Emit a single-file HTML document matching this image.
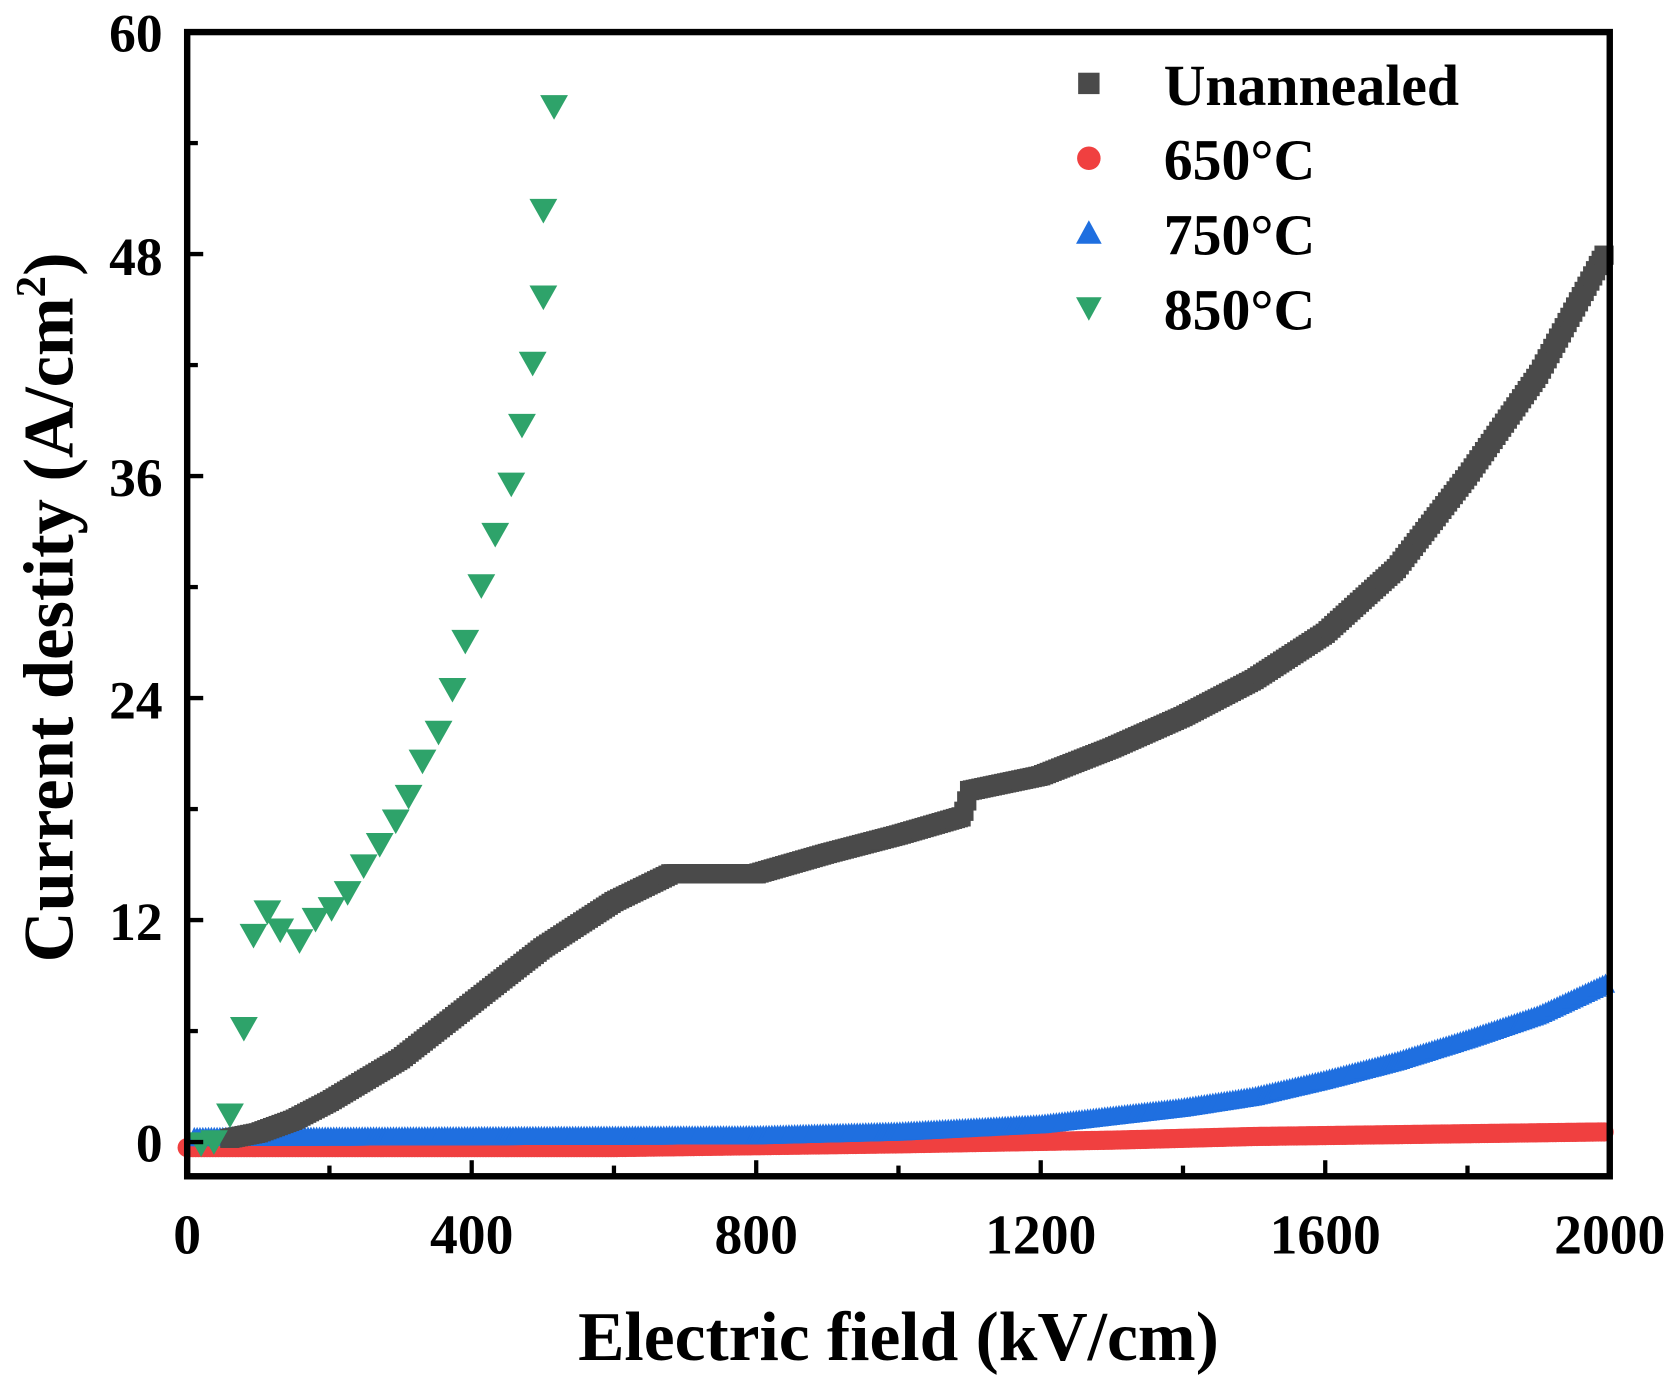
<!DOCTYPE html>
<html><head><meta charset="utf-8"><style>
html,body{margin:0;padding:0;background:#fff;}
svg{display:block;}
text{font-family:"Liberation Serif",serif;font-weight:bold;fill:#000;}
</style></head><body>
<svg id="s" width="1675" height="1388" viewBox="0 0 1566 1298" preserveAspectRatio="none" xmlns="http://www.w3.org/2000/svg">
<g id="data"></g>
<rect x="175" y="30" width="1330" height="1070" fill="none" stroke="#000" stroke-width="6"/>
<g id="ticks" stroke="#000" stroke-width="4"></g>
<g font-size="50" text-anchor="end">
<text x="152" y="1086">0</text><text x="152" y="879">12</text><text x="152" y="672">24</text>
<text x="152" y="464">36</text><text x="152" y="257">48</text><text x="152" y="48">60</text>
</g>
<g font-size="52" text-anchor="middle">
<text x="175" y="1172">0</text><text x="441" y="1172">400</text><text x="707" y="1172">800</text>
<text x="973" y="1172">1200</text><text x="1239" y="1172">1600</text><text x="1505" y="1172">2000</text>
</g>
<text x="840" y="1272" font-size="65" text-anchor="middle">Electric field (kV/cm)</text>
<text transform="translate(68,568) rotate(-90)" font-size="66" text-anchor="middle">Current destity (A/cm<tspan font-size="40" dy="-26">2</tspan><tspan dy="26">)</tspan></text>
<g font-size="54">
<rect x="1008" y="68" width="20" height="20" fill="#4a4a4a"/><text x="1088" y="98">Unannealed</text>
<circle cx="1018" cy="148" r="11" fill="#f04040"/><text x="1088" y="168">650°C</text>
<polygon points="1006,228 1030,228 1018,206" fill="#1f6fe0"/><text x="1088" y="238">750°C</text>
<polygon points="1006,278 1030,278 1018,300" fill="#2ea36a"/><text x="1088" y="308">850°C</text>
</g>
</svg>
<script>
var NS="http://www.w3.org/2000/svg",g=document.getElementById('data'),tk=document.getElementById('ticks');
function X(v){return 175+v*0.665;} function Y(v){return 1068-v*17.3;}
function el(n,a,p){var e=document.createElementNS(NS,n);for(var k in a)e.setAttribute(k,a[k]);(p||g).appendChild(e);}
function interp(p,x){for(var i=0;i<p.length-1;i++){if(x<=p[i+1][0]){var t=(x-p[i][0])/(p[i+1][0]-p[i][0]);return p[i][1]+t*(p[i+1][1]-p[i][1]);}}return p[p.length-1][1];}
for(var v=0;v<=2000;v+=200){var x=X(v);el('line',{x1:x,y1:1100,x2:x,y2:v%400?1090:1085},tk);}
for(var v=0;v<=60;v+=6){var y=Y(v);el('line',{x1:175,y1:y,x2:v%12?185:190,y2:y},tk);}
var red=[[0,-0.3],[600,-0.3],[1000,-0.1],[1300,0.1],[1500,0.3],[2000,0.55]];
for(var v=0;v<=1995;v+=4)el('circle',{cx:X(v),cy:Y(interp(red,v)),r:9,fill:'#f04040'});
var blue=[[0,0.3],[800,0.4],[1000,0.6],[1200,1],[1400,1.9],[1500,2.5],[1600,3.4],[1700,4.4],[1800,5.6],[1900,6.9],[2000,8.7]];
for(var v=10;v<=1995;v+=4){var x=X(v),y=Y(interp(blue,v));el('polygon',{points:(x-9)+','+(y+9)+' '+(x+9)+','+(y+9)+' '+x+','+(y-9),fill:'#1f6fe0'});}
var gr=[[60,0.2],[100,0.5],[150,1.2],[200,2.2],[300,4.5],[400,7.5],[500,10.5],[600,13],[680,14.5],[800,14.5],[900,15.6],[1000,16.6],[1090,17.6],[1100,19],[1200,19.8],[1300,21.3],[1400,23],[1500,25],[1600,27.5],[1700,31],[1800,36],[1900,41.5],[2000,48.5]];
for(var v=60;v<=1995;v+=4)el('rect',{x:X(v)-9,y:Y(interp(gr,v))-9,width:18,height:18,fill:'#4a4a4a'});
var grn=[[188,1070],[200,1068],[215,1043],[228,962],[237,875],[250,853],[262,870],[280,880],[295,860],[310,850],[325,835],[340,810],[355,790],[370,768],[382,745],[395,712],[410,685],[423,645],[435,600],[450,548],[463,500],[478,453],[488,398],[498,340],[508,278],[508,197],[518,100]];
grn.forEach(function(p){var x=p[0],y=p[1];el('polygon',{points:(x-13)+','+(y-11)+' '+(x+13)+','+(y-11)+' '+x+','+(y+12),fill:'#2ea36a'});});
</script>
</body></html>
